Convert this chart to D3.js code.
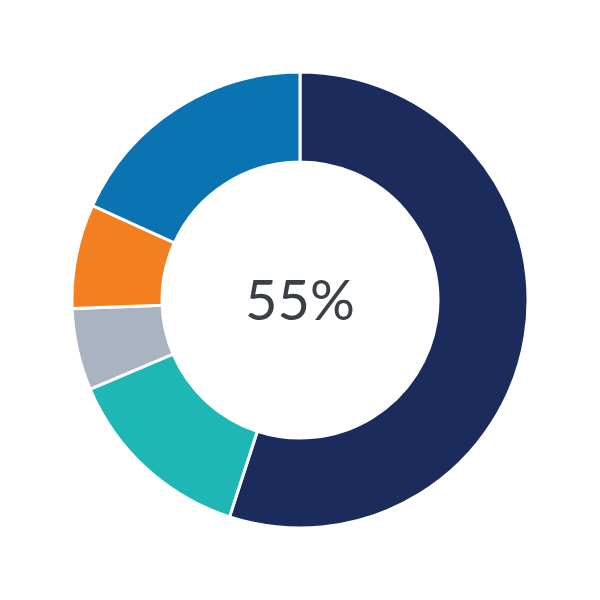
<!DOCTYPE html>
<html>
<head>
<meta charset="utf-8" />
<script src="https://d3js.org/d3.v7.min.js"></script>
<style>
  body { margin: 0; background: #fff; }
</style>
</head>
<body>
<script>
const labels = ["A", "B", "C", "D", "E"];
const values = [55, 13.6, 5.8, 7.4, 18.2];
const colors = ["#1b2b5b", "#1fb6b6", "#a9b3c1", "#f27f20", "#0a74b3"];
const centerText = "55%";

const width = 600, height = 600;
const outerR = 228, innerR = 138;

const svg = d3.select("body").append("svg")
  .attr("width", width)
  .attr("height", height);

const g = svg.append("g").attr("transform", "translate(300,300)");

const pie = d3.pie().sort(null).value(d => d.value);
const arc = d3.arc().innerRadius(innerR).outerRadius(outerR);

const data = labels.map((l, i) => ({ label: l, value: values[i], color: colors[i] }));

g.selectAll("path")
  .data(pie(data))
  .join("path")
  .attr("d", arc)
  .attr("fill", d => d.data.color)
  .attr("stroke", "#fff")
  .attr("stroke-width", 3);

g.append("text")
  .attr("text-anchor", "middle")
  .attr("dy", "0.35em")
  .style("font-family", "Lato, sans-serif")
  .style("font-size", "56px")
  .style("fill", "#3b4048")
  .text(centerText);
</script>
</body>
</html>
